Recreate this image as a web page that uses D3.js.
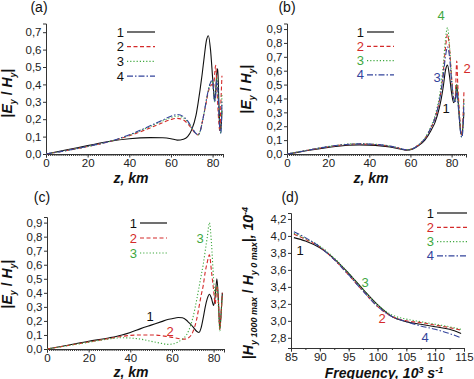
<!DOCTYPE html>
<html>
<head>
<meta charset="utf-8">
<script src="https://cdn.jsdelivr.net/npm/d3@7"></script>
<style>
  body { margin: 0; background: #fff; }
  svg { font-family: "Liberation Sans", Arial, sans-serif; }
  .tick text { font-size: 11.5px; fill: #222; }
  .tick line, .domain { stroke: #333; }
</style>
</head>
<body>
<svg id="chart" width="474" height="379"></svg>
<script>
// panel (a)
const zA = [0, 10, 20, 30, 40, 50, 56, 60, 63, 66, 68, 70, 72, 73, 74, 75, 76, 77, 78, 79, 80, 80.5, 81, 81.5, 82, 82.5, 83, 83.5, 84, 84.5]
const a1 = [0, .024, .048, .072, .088, .094, .093, .088, .08, .085, .1, .14, .22, .29, .37, .46, .56, .65, .68, .6, .44, .36, .31, .36, .46, .49, .3, .17, .14, .25]
const a2 = [0, .02, .043, .07, .105, .15, .18, .198, .205, .195, .175, .145, .115, .11, .13, .18, .24, .3, .36, .39, .4, .38, .46, .51, .4, .28, .18, .13, .3, .45]
const a3 = [0, .02, .043, .07, .108, .158, .19, .21, .218, .208, .185, .15, .117, .11, .13, .18, .24, .31, .37, .41, .42, .35, .3, .36, .44, .4, .25, .15, .12, .35]
const a4 = [0, .02, .044, .071, .11, .162, .195, .217, .227, .215, .19, .153, .118, .11, .128, .18, .24, .31, .37, .41, .43, .36, .3, .34, .42, .38, .24, .14, .12, .3]

// panel (b)
const zB = [0, 5, 10, 20, 30, 35, 40, 50, 55, 58, 61, 64, 67, 70, 72, 74, 75, 76, 77, 78, 79, 80, 81, 81.8, 82.5, 83, 83.8, 84.5, 85, 85.5, 86]
const b1 = [0, .012, .025, .047, .063, .066, .064, .05, .036, .028, .035, .06, .1, .17, .23, .33, .4, .49, .6, .64, .56, .44, .37, .4, .5, .42, .25, .15, .14, .2, .3]
const b2 = [0, .013, .027, .052, .069, .072, .07, .056, .04, .03, .038, .066, .11, .19, .26, .38, .47, .6, .76, .86, .76, .55, .4, .42, .67, .5, .3, .16, .13, .25, .45]
const b3 = [0, .014, .028, .054, .072, .075, .073, .058, .041, .03, .038, .067, .115, .2, .28, .41, .51, .65, .82, .91, .78, .55, .4, .38, .5, .42, .28, .15, .12, .2, .4]
const b4 = [0, .013, .027, .053, .07, .073, .071, .057, .04, .03, .038, .066, .11, .19, .26, .38, .46, .57, .7, .77, .7, .52, .4, .37, .46, .38, .25, .14, .12, .18, .38]

// panel (c)
const zC = [0, 10, 20, 30, 36, 40, 45, 50, 55, 58, 60, 63, 65, 67, 68, 70, 72, 73, 74, 75, 76, 77, 78, 79, 80, 80.8, 81.6, 82.3, 83, 83.6, 84.2]
const c1 = [0, .027, .055, .08, .1, .118, .145, .17, .195, .21, .215, .224, .222, .205, .19, .16, .125, .118, .15, .22, .3, .36, .39, .36, .31, .38, .5, .35, .14, .25, .4]
const c2 = [0, .025, .05, .075, .09, .097, .1, .1, .095, .088, .083, .075, .07, .072, .08, .12, .22, .3, .38, .45, .55, .62, .67, .55, .42, .32, .45, .35, .14, .25, .4]
const c3 = [0, .024, .048, .072, .08, .078, .07, .055, .04, .033, .035, .05, .07, .1, .13, .22, .36, .44, .52, .6, .7, .8, .9, .75, .5, .38, .45, .3, .13, .25, .38]

// panel (d)
const fD = [85.5, 87.5, 90, 92.5, 95, 97.5, 100, 102.5, 105, 107.5, 110, 112.5, 114.5]
const h1 = [3.98, 3.94, 3.86, 3.73, 3.56, 3.37, 3.19, 3.05, 2.99, 2.96, 2.93, 2.90, 2.85]
const h2 = [4.02, 3.96, 3.87, 3.72, 3.54, 3.35, 3.17, 3.05, 3.0, 2.98, 2.95, 2.92, 2.89]
const h3 = [4.03, 3.97, 3.88, 3.74, 3.56, 3.37, 3.19, 3.07, 3.02, 2.99, 2.96, 2.93, 2.90]
const h4 = [4.05, 3.98, 3.87, 3.72, 3.54, 3.35, 3.17, 3.05, 2.99, 2.94, 2.90, 2.85, 2.80]

const ticksZ = [0, 20, 40, 60, 80]
const ticksF = [85, 90, 95, 100, 105, 110, 115]
const ticksA = [0, .1, .2, .3, .4, .5, .6, .7]
const ticksB = [0, .1, .2, .3, .4, .5, .6, .7, .8, .9]
const ticksD = [2.8, 3.0, 3.2, 3.4, 3.6, 3.8, 4.0, 4.2]

const colors = ['#111', '#d42a2a', '#3fa83f', '#33449c']
const dashes = [null, '4,2.5', '1.2,2', '6,2,1.5,2']

const comma = (v) => v.toFixed(1).replace('.', ',')
const svg = d3.select('#chart')

let drawPanel = (p) => {
    const x = d3.scaleLinear().domain(p.xd).range(p.xr)
    const y = d3.scaleLinear().domain(p.yd).range(p.yr)
    const g = svg.append('g')

    // minor ticks
    g.append('g')
        .attr('transform', 'translate(0,' + p.yr[0] + ')')
        .call(d3.axisBottom(x).tickValues(p.minor).tickSize(2).tickFormat(''))
        .call(a => a.select('.domain').remove())
    g.append('g')
        .attr('transform', 'translate(0,' + p.yr[0] + ')')
        .call(d3.axisBottom(x).tickValues(p.xt).tickSize(3.5).tickPadding(1.5).tickFormat(d => d))
    g.append('g')
        .attr('transform', 'translate(' + p.xr[0] + ',0)')
        .call(d3.axisLeft(y).tickValues(p.yt).tickSize(3).tickPadding(1.5).tickFormat(comma))
    g.selectAll('.tick line').attr('stroke', '#333')
    g.selectAll('.domain').attr('stroke', '#333')

    const line = d3.line()
        .x(d => x(d[0]))
        .y(d => y(d[1]))
        .curve(d3.curveMonotoneX)

    p.series.forEach((s, i) => {
        g.append('path')
            .datum(p.xs.map((v, k) => [v, s[k]]))
            .attr('d', line)
            .attr('fill', 'none')
            .attr('stroke', colors[i])
            .attr('stroke-width', 1.1)
            .attr('stroke-dasharray', dashes[i])
    })

    // legend
    p.series.forEach((s, i) => {
        const ly = p.leg.y + i * p.leg.dy
        g.append('line')
            .attr('x1', p.leg.x).attr('x2', p.leg.x + p.leg.w)
            .attr('y1', ly).attr('y2', ly)
            .attr('stroke', colors[i])
            .attr('stroke-width', 1.2)
            .attr('stroke-dasharray', dashes[i])
        g.append('text')
            .text(i + 1)
            .attr('x', p.leg.x - 3)
            .attr('y', ly + 4.5)
            .attr('text-anchor', 'end')
            .attr('font-size', 13)
            .attr('fill', p.leg.plain ? '#111' : colors[i])
    })

    // labels on curves: [text, x, y, colour index]
    p.marks.forEach(m => {
        g.append('text')
            .text(m[0])
            .attr('x', m[1])
            .attr('y', m[2] + 4.5)
            .attr('text-anchor', 'middle')
            .attr('font-size', 13)
            .attr('fill', colors[m[3]])
    })

    g.append('text')
        .text(p.title)
        .attr('x', p.tpos[0])
        .attr('y', p.tpos[1])
        .attr('text-anchor', 'middle')
        .attr('font-size', 14)
        .attr('fill', '#111')
}

let subText = (sel, parts) => {
    parts.forEach(pt => {
        const t = sel.append('tspan').text(pt[0])
        if (pt[1] == 'sub') t.attr('font-size', 9).attr('dy', 4)
        else if (pt[1] == 'sup') t.attr('font-size', 9).attr('dy', -5)
        else if (pt[1] == 'back') t.attr('dy', pt[2])
        if (pt[3]) t.attr('font-style', 'italic')
    })
}

let yLabel = (cx, cy, parts) => {
    const t = svg.append('text')
        .attr('transform', 'translate(' + cx + ',' + cy + ') rotate(-90)')
        .attr('text-anchor', 'middle')
        .attr('font-size', 14)
        .attr('font-weight', 'bold')
        .attr('fill', '#111')
    subText(t, parts)
}

let xLabel = (cx, cy, parts) => {
    const t = svg.append('text')
        .attr('x', cx).attr('y', cy)
        .attr('text-anchor', 'middle')
        .attr('font-size', 14)
        .attr('font-weight', 'bold')
        .attr('font-style', 'italic')
        .attr('fill', '#111')
    subText(t, parts)
}

drawPanel({title: '(a)', tpos: [39, 12], xs: zA, series: [a1, a2, a3, a4],
    xd: [0, 85], xr: [46, 223], yd: [0, 0.75], yr: [154, 23.5],
    xt: ticksZ, yt: ticksA, minor: d3.range(0, 86, 1),
    leg: {x: 127, y: 32, dy: 14.7, w: 28, plain: true}, marks: []})

drawPanel({title: '(b)', tpos: [287, 12], xs: zB, series: [b1, b2, b3, b4],
    xd: [0, 87], xr: [287, 466], yd: [0, 0.94], yr: [154, 23.5],
    xt: ticksZ, yt: ticksB, minor: d3.range(0, 88, 1),
    leg: {x: 367, y: 32, dy: 14.3, w: 27},
    marks: [['4', 441, 15, 2], ['3', 437, 77, 3], ['2', 467, 68, 1], ['1', 446, 108, 0]]})

drawPanel({title: '(c)', tpos: [42, 202], xs: zC, series: [c1, c2, c3],
    xd: [0, 85], xr: [47, 224], yd: [0, 0.94], yr: [349, 217],
    xt: ticksZ, yt: ticksB, minor: d3.range(0, 86, 1),
    leg: {x: 140, y: 223, dy: 15, w: 27},
    marks: [['3', 200, 238, 2], ['1', 150, 316, 0], ['2', 170, 331, 1]]})

drawPanel({title: '(d)', tpos: [290, 202], xs: fD, series: [h1, h2, h3, h4],
    xd: [85, 115], xr: [291, 464], yd: [2.68, 4.27], yr: [348, 213],
    xt: ticksF, yt: ticksD, minor: d3.range(85, 115.1, 2.5),
    leg: {x: 437, y: 213, dy: 14.3, w: 30},
    marks: [['1', 300, 250, 0], ['3', 365, 282, 2], ['2', 382, 318, 1], ['4', 425, 337, 3]]})

const eh = [['|'], ['E', null, 0, true], ['y', 'sub', 0, true], [' / ', 'back', -4], ['H', null, 0, true], ['y', 'sub', 0, true], ['|', 'back', -4]]
yLabel(12, 93, eh)
yLabel(251, 89, eh)
yLabel(12, 284, eh)
yLabel(253, 283, [['|'], ['H', null, 0, true], ['y 1000 max', 'sub', 0, true], [' / ', 'back', -4],
    ['H', null, 0, true], ['y 0 max', 'sub', 0, true], ['|, 10', 'back', -4, true], ['-4', 'sup', 0, true]])

xLabel(131, 183, [['z, km']])
xLabel(371, 183, [['z, km']])
xLabel(131, 376.5, [['z, km']])
xLabel(384, 377.5, [['Frequency, 10'], ['3', 'sup'], [' s', 'back', 5], ['-1', 'sup']])
</script>
</body>
</html>
